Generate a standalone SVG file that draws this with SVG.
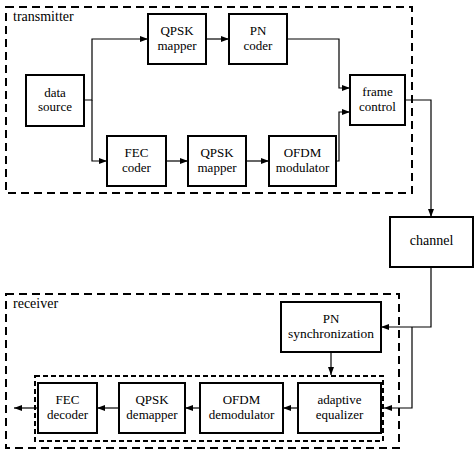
<svg xmlns="http://www.w3.org/2000/svg" width="474" height="474" viewBox="0 0 474 474" font-family="'Liberation Serif', 'DejaVu Serif', serif">
<style>
.box{fill:#fff;stroke:#000;stroke-width:2}
.grp{fill:none;stroke:#000;stroke-width:2;stroke-dasharray:8 5}
.inner{fill:none;stroke:#000;stroke-width:2;stroke-dasharray:5 3}
.c{fill:none;stroke:#000;stroke-width:1.2}
text{font-family:'Liberation Serif','DejaVu Serif',serif;font-size:13px;fill:#000}
.m{text-anchor:middle}
</style>
<defs>
<marker id="ah" markerUnits="userSpaceOnUse" markerWidth="9" markerHeight="7" refX="8" refY="3" orient="auto">
<path d="M0,0 L8,3 L0,6 z" fill="#000"/>
</marker>
</defs>
<rect width="474" height="474" fill="#fff"/>
<g id="transmitter">
<rect class="grp" x="6" y="7" width="406" height="186"/>
<text x="13" y="21" style="font-size:14px">transmitter</text>
</g>
<g id="receiver">
<rect class="grp" x="6" y="294" width="393" height="154"/>
<text x="13" y="308" style="font-size:14px">receiver</text>
</g>
<g id="receiver-chain">
<rect class="inner" x="35" y="376" width="348" height="65"/>
</g>
<g id="connectors">
<path class="c" d="M84,100 H92 V39 H148" marker-end="url(#ah)"/>
<path class="c" d="M92,100 V161 H107" marker-end="url(#ah)"/>
<path class="c" d="M166,161 H188" marker-end="url(#ah)"/>
<path class="c" d="M206,39 H229" marker-end="url(#ah)"/>
<path class="c" d="M246,161 H269" marker-end="url(#ah)"/>
<path class="c" d="M287,39 H339 V88 H350" marker-end="url(#ah)"/>
<path class="c" d="M336,161 H339 V112 H350" marker-end="url(#ah)"/>
<path class="c" d="M405,100 H431 V217" marker-end="url(#ah)"/>
<path class="c" d="M431,267 V327 H381" marker-end="url(#ah)"/>
<path class="c" d="M412,327 V408 H384" marker-end="url(#ah)"/>
<path class="c" d="M331,352 V375" marker-end="url(#ah)"/>
<path class="c" d="M298,408 H283" marker-end="url(#ah)"/>
<path class="c" d="M200,408 H185" marker-end="url(#ah)"/>
<path class="c" d="M119,408 H97" marker-end="url(#ah)"/>
<path class="c" d="M38,408 H14" marker-end="url(#ah)"/>
</g>
<g id="data-source">
<rect class="box" x="26" y="75" width="58" height="51"/>
<text class="m" x="55" y="96.5">data</text>
<text class="m" x="55" y="111">source</text>
</g>
<g id="qpsk-mapper-1">
<rect class="box" x="148" y="14" width="58" height="50"/>
<text class="m" x="177" y="35">QPSK</text>
<text class="m" x="177" y="49.5">mapper</text>
</g>
<g id="pn-coder">
<rect class="box" x="229" y="14" width="58" height="50"/>
<text class="m" x="258" y="35">PN</text>
<text class="m" x="258" y="49.5">coder</text>
</g>
<g id="fec-coder">
<rect class="box" x="107" y="136" width="59" height="50"/>
<text class="m" x="136.5" y="157">FEC</text>
<text class="m" x="136.5" y="171.5">coder</text>
</g>
<g id="qpsk-mapper-2">
<rect class="box" x="188" y="136" width="58" height="50"/>
<text class="m" x="217" y="157">QPSK</text>
<text class="m" x="217" y="171.5">mapper</text>
</g>
<g id="ofdm-modulator">
<rect class="box" x="269" y="136" width="67" height="50"/>
<text class="m" x="302.5" y="157">OFDM</text>
<text class="m" x="302.5" y="171.5">modulator</text>
</g>
<g id="frame-control">
<rect class="box" x="350" y="75" width="55" height="50"/>
<text class="m" x="377.5" y="96">frame</text>
<text class="m" x="377.5" y="110.5">control</text>
</g>
<g id="channel">
<rect class="box" x="390" y="217" width="83" height="50"/>
<text class="m" x="431.5" y="245" style="font-size:14px">channel</text>
</g>
<g id="pn-synchronization">
<rect class="box" x="281" y="302" width="100" height="50"/>
<text class="m" x="331" y="323">PN</text>
<text class="m" x="331" y="337.5" style="font-size:13.5px">synchronization</text>
</g>
<g id="adaptive-equalizer">
<rect class="box" x="298" y="383" width="83" height="50"/>
<text class="m" x="339.5" y="404">adaptive</text>
<text class="m" x="339.5" y="418.5">equalizer</text>
</g>
<g id="ofdm-demodulator">
<rect class="box" x="200" y="383" width="83" height="50"/>
<text class="m" x="241.5" y="404">OFDM</text>
<text class="m" x="241.5" y="418.5">demodulator</text>
</g>
<g id="qpsk-demapper">
<rect class="box" x="119" y="383" width="66" height="50"/>
<text class="m" x="152" y="404">QPSK</text>
<text class="m" x="152" y="418.5">demapper</text>
</g>
<g id="fec-decoder">
<rect class="box" x="38" y="383" width="59" height="50"/>
<text class="m" x="67.5" y="404">FEC</text>
<text class="m" x="67.5" y="418.5">decoder</text>
</g>
</svg>
